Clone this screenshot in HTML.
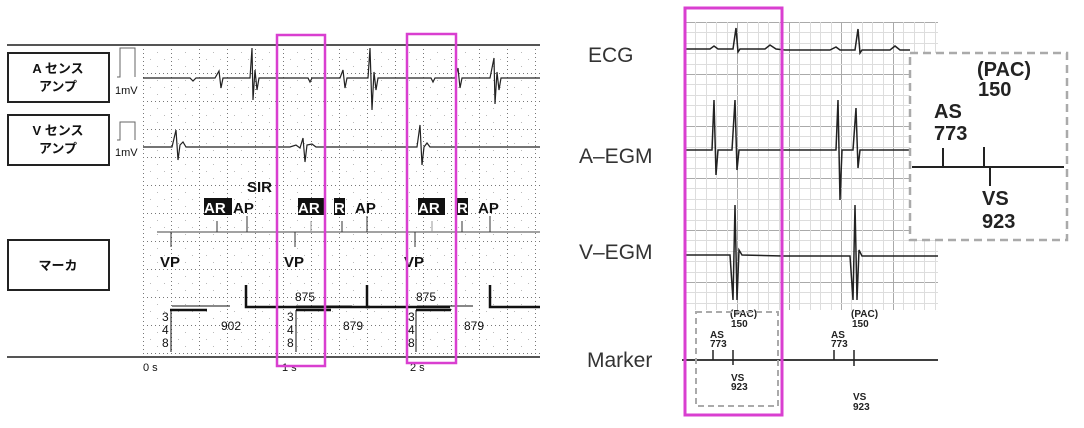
<!DOCTYPE html>
<html><head><meta charset="utf-8"><style>
html,body{margin:0;padding:0;background:#fff;}
svg{display:block;}
text{font-family:"Liberation Sans","Noto Sans CJK JP",sans-serif;}
</style></head><body>
<svg width="1084" height="428" viewBox="0 0 1084 428" xmlns="http://www.w3.org/2000/svg">
<defs>
<pattern id="gl" x="143" y="45" width="28" height="28" patternUnits="userSpaceOnUse">
<g fill="#777">
<rect x="0" y="0" width="1" height="1"/><rect x="0" y="4" width="1" height="1"/><rect x="0" y="8" width="1" height="1"/><rect x="0" y="12" width="1" height="1"/><rect x="0" y="16" width="1" height="1"/><rect x="0" y="20" width="1" height="1"/><rect x="0" y="24" width="1" height="1"/>
<rect x="4" y="0" width="1" height="1"/><rect x="8" y="0" width="1" height="1"/><rect x="12" y="0" width="1" height="1"/><rect x="16" y="0" width="1" height="1"/><rect x="20" y="0" width="1" height="1"/><rect x="24" y="0" width="1" height="1"/>
</g>
<g fill="#bbb"><rect x="14" y="7" width="1" height="1"/><rect x="7" y="14" width="1" height="1"/><rect x="21" y="14" width="1" height="1"/><rect x="14" y="21" width="1" height="1"/></g>
</pattern>
<pattern id="gr" x="685" y="22" width="52" height="52" patternUnits="userSpaceOnUse">
<rect x="0" y="0" width="52" height="1" fill="#aaa"/><rect x="0" y="0" width="1" height="52" fill="#aaa"/>
<g fill="#ddd">
<rect x="10" y="0" width="1" height="52"/><rect x="21" y="0" width="1" height="52"/><rect x="31" y="0" width="1" height="52"/><rect x="42" y="0" width="1" height="52"/>
<rect x="0" y="10" width="52" height="1"/><rect x="0" y="21" width="52" height="1"/><rect x="0" y="31" width="52" height="1"/><rect x="0" y="42" width="52" height="1"/>
</g>
</pattern>
</defs>

<!-- LEFT PANEL -->
<rect x="143" y="46" width="397" height="310" fill="url(#gl)"/>
<line x1="7" y1="45" x2="540" y2="45" stroke="#555" stroke-width="2"/>
<line x1="7" y1="357" x2="540" y2="357" stroke="#555" stroke-width="2"/>
<g fill="#fff" stroke="#222" stroke-width="2">
<rect x="8" y="53" width="101" height="49"/>
<rect x="8" y="115" width="101" height="50"/>
<rect x="8" y="240" width="101" height="50"/>
</g>
<g font-size="13" font-weight="bold" fill="#111" text-anchor="middle">
<text x="58" y="73">A センス</text><text x="58" y="91">アンプ</text>
<text x="58" y="135">V センス</text><text x="58" y="153">アンプ</text>
<text x="58" y="270">マーカ</text>
</g>
<g fill="none" stroke="#666" stroke-width="1">
<polyline points="117,77 120,77 120,48 135,48 135,77"/>
<polyline points="117,140 120,140 120,122 135,122 135,140"/>
</g>
<g font-size="11" fill="#111"><text x="115" y="94">1mV</text><text x="115" y="156">1mV</text></g>
<polyline fill="none" stroke="#222" stroke-width="1.2" points="143,78 190,78 193,81 196,78 215,78 219,71 221,88 223,78 250,78 252,48 253,100 255,70 257,90 259,78 300,78 308,78 310,82 312,78 340,78 343,70 345,88 347,78 368,78 370,48 372,110 374,72 376,90 378,78 420,78 431,78 433,82 435,78 455,78 458,68 460,88 462,78 490,78 494,58 495,104 497,72 499,90 501,78 540,78"/>
<polyline fill="none" stroke="#222" stroke-width="1.2" points="143,147 172,147 176,130 178,160 180,145 183,142 186,147 240,147 290,147 296,145 300,148 303,138 305,162 307,145 312,144 316,147 400,147 417,147 420,125 422,165 424,147 427,143 430,147 540,147"/>
<line x1="157" y1="232" x2="540" y2="232" stroke="#444" stroke-width="1"/>
<g stroke="#333" stroke-width="1">
<line x1="217" y1="221" x2="217" y2="232"/><line x1="247" y1="216" x2="247" y2="232"/>
<line x1="311" y1="221" x2="311" y2="232" stroke="#999"/><line x1="342" y1="221" x2="342" y2="232"/><line x1="367" y1="216" x2="367" y2="232"/>
<line x1="432" y1="221" x2="432" y2="232" stroke="#999"/><line x1="462" y1="221" x2="462" y2="232"/><line x1="490" y1="216" x2="490" y2="232"/>
<line x1="171" y1="232" x2="171" y2="247"/><line x1="295" y1="232" x2="295" y2="247"/><line x1="415" y1="232" x2="415" y2="247"/>
</g>
<g font-size="15" font-weight="bold" fill="#111">
<text x="247" y="192">SIR</text>
<rect x="204" y="198" width="28" height="17" fill="#111"/><text x="204" y="213" fill="#fff">AR</text><text x="233" y="213">AP</text>
<rect x="298" y="198" width="26" height="17" fill="#111"/><text x="298" y="213" fill="#fff">AR</text>
<rect x="334" y="198" width="11" height="17" fill="#111"/><text x="334" y="213" fill="#fff">R</text><text x="355" y="213">AP</text>
<rect x="418" y="198" width="27" height="17" fill="#111"/><text x="418" y="213" fill="#fff">AR</text>
<rect x="456" y="198" width="12" height="17" fill="#111"/><text x="457" y="213" fill="#fff">R</text><text x="478" y="213">AP</text>
<text x="160" y="267">VP</text><text x="284" y="267">VP</text><text x="404" y="267">VP</text>
</g>
<g stroke="#111" fill="none">
<polyline points="246,285 246,307 370,307" stroke-width="2.5"/><polyline points="367,285 367,307 450,307" stroke-width="2.5"/><polyline points="490,285 490,307 540,307" stroke-width="2.5"/>
<line x1="172" y1="306" x2="230" y2="306" stroke-width="1"/><line x1="296" y1="306" x2="352" y2="306" stroke-width="1"/><line x1="417" y1="306" x2="473" y2="306" stroke-width="1"/>
<line x1="170" y1="310" x2="207" y2="310" stroke-width="2.5"/><line x1="296" y1="310" x2="331" y2="310" stroke-width="2.5"/><line x1="416" y1="310" x2="451" y2="310" stroke-width="2.5"/>
<line x1="171" y1="310" x2="171" y2="352" stroke-width="1"/><line x1="296" y1="310" x2="296" y2="352" stroke-width="1"/><line x1="416" y1="310" x2="416" y2="352" stroke-width="1"/>
</g>
<g font-size="12" fill="#111">
<text x="162" y="321">3</text><text x="162" y="334">4</text><text x="162" y="347">8</text>
<text x="287" y="321">3</text><text x="287" y="334">4</text><text x="287" y="347">8</text>
<text x="408" y="321">3</text><text x="408" y="334">4</text><text x="408" y="347">8</text>
<text x="221" y="330">902</text><text x="343" y="330">879</text><text x="464" y="330">879</text>
<text x="295" y="301">875</text><text x="416" y="301">875</text>
<text x="143" y="371" font-size="11">0 s</text><text x="282" y="371" font-size="11">1 s</text><text x="410" y="371" font-size="11">2 s</text>
</g>
<rect x="277" y="35" width="48" height="331" fill="none" stroke="#d93fd0" stroke-width="2.5"/>
<rect x="407" y="34" width="49" height="329" fill="none" stroke="#d93fd0" stroke-width="2.5"/>

<!-- RIGHT PANEL -->
<rect x="685" y="22" width="253" height="288" fill="url(#gr)"/>
<g font-size="21" fill="#333">
<text x="588" y="62">ECG</text><text x="579" y="163">A–EGM</text><text x="579" y="259">V–EGM</text><text x="587" y="367">Marker</text>
</g>
<g fill="none" stroke="#222" stroke-width="1.5">
<polyline points="685,49 710,49 714,46 718,49 733,49 736,28 738,52 740,49 765,49 770,45 776,49 785,50 830,50 836,47 840,50 855,50 858,29 860,53 862,50 890,50 895,46 900,50 910,50"/>
<polyline points="685,150 712,150 714,100 716,175 718,150 732,150 735,100 737,170 739,150 783,150 836,150 838,100 840,200 842,150 853,150 856,108 858,168 860,150 910,150"/>
<polyline points="685,255 730,255 733,300 735,205 737,300 739,250 742,255 783,256 850,256 853,300 855,205 857,300 859,250 862,256 938,256"/>
<line x1="682" y1="360" x2="938" y2="360" stroke-width="1.8"/>
<line x1="713" y1="350" x2="713" y2="360"/><line x1="733" y1="350" x2="733" y2="365"/>
<line x1="834" y1="350" x2="834" y2="360"/><line x1="854" y1="350" x2="854" y2="366"/>
</g>
<g font-size="10" fill="#222" font-weight="bold">
<text x="730" y="317">(PAC)</text><text x="731" y="327">150</text>
<text x="710" y="338">AS</text><text x="710" y="347">773</text>
<text x="731" y="381">VS</text><text x="731" y="390">923</text>
<text x="851" y="317">(PAC)</text><text x="852" y="327">150</text>
<text x="831" y="338">AS</text><text x="831" y="347">773</text>
<text x="853" y="400">VS</text><text x="853" y="410">923</text>
</g>
<rect x="696" y="312" width="82" height="94" fill="none" stroke="#aaa" stroke-width="2" stroke-dasharray="6,4"/>
<rect x="685" y="8" width="97" height="407" fill="none" stroke="#d93fd0" stroke-width="3"/>
<rect x="910" y="53" width="157" height="187" fill="#fff" stroke="#aaa" stroke-width="2.5" stroke-dasharray="8,5"/>
<g font-size="20" fill="#222" font-weight="bold">
<text x="977" y="76">(PAC)</text><text x="978" y="96">150</text>
<text x="934" y="118">AS</text><text x="934" y="140">773</text>
<text x="982" y="205">VS</text><text x="982" y="228">923</text>
</g>
<g stroke="#222" stroke-width="2"><line x1="912" y1="167" x2="1064" y2="167"/><line x1="943" y1="148" x2="943" y2="167"/><line x1="984" y1="147" x2="984" y2="167"/><line x1="990" y1="167" x2="990" y2="186"/></g>
</svg>
</body></html>
